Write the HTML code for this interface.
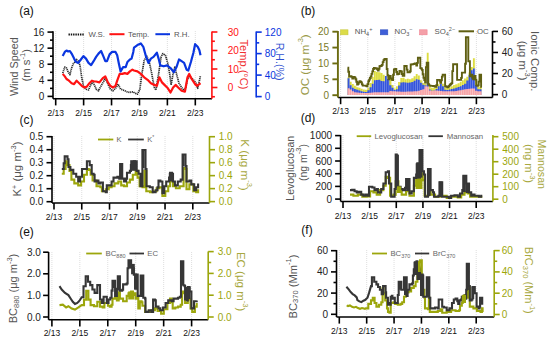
<!DOCTYPE html>
<html><head><meta charset="utf-8"><style>
html,body{margin:0;padding:0;background:#fff;width:550px;height:337px;overflow:hidden}
svg{display:block;font-family:"Liberation Sans", sans-serif}
</style></head><body>
<svg width="550" height="337" viewBox="0 0 550 337">
<defs>
<pattern id="pb" patternUnits="userSpaceOnUse" x="347.5" y="0" width="2.2" height="10"><rect width="2.2" height="10" fill="#3454dc"/><rect x="1.7" width="0.5" height="10" fill="#8a9ce8"/></pattern>
<pattern id="py" patternUnits="userSpaceOnUse" x="347.5" y="0" width="2.2" height="10"><rect width="2.2" height="10" fill="#dcdc40"/><rect x="1.7" width="0.5" height="10" fill="#ecec90"/></pattern>
<pattern id="pp" patternUnits="userSpaceOnUse" x="347.5" y="0" width="2.2" height="10"><rect width="2.2" height="10" fill="#f6a4a8"/><rect x="1.7" width="0.5" height="10" fill="#fbd0d2"/></pattern>
</defs>
<rect width="550" height="337" fill="#fff"/>
<text x="26.50" y="10.50" font-size="12" fill="#111" text-anchor="middle" dominant-baseline="central" font-weight="normal">(a)</text>
<line x1="53.00" y1="98.80" x2="212.00" y2="98.80" stroke="#000" stroke-width="1.5"/>
<line x1="55.70" y1="98.80" x2="55.70" y2="105.40" stroke="#000" stroke-width="1.6"/>
<text x="55.70" y="112.50" font-size="8.5" fill="#111" text-anchor="middle" dominant-baseline="central" font-weight="normal">2/13</text>
<line x1="55.70" y1="31.00" x2="55.70" y2="98.00" stroke="#c8c8c8" stroke-width="0.6" stroke-dasharray="1,1"/>
<line x1="83.62" y1="98.80" x2="83.62" y2="105.40" stroke="#000" stroke-width="1.6"/>
<text x="83.62" y="112.50" font-size="8.5" fill="#111" text-anchor="middle" dominant-baseline="central" font-weight="normal">2/15</text>
<line x1="83.62" y1="31.00" x2="83.62" y2="98.00" stroke="#c8c8c8" stroke-width="0.6" stroke-dasharray="1,1"/>
<line x1="111.54" y1="98.80" x2="111.54" y2="105.40" stroke="#000" stroke-width="1.6"/>
<text x="111.54" y="112.50" font-size="8.5" fill="#111" text-anchor="middle" dominant-baseline="central" font-weight="normal">2/17</text>
<line x1="111.54" y1="31.00" x2="111.54" y2="98.00" stroke="#c8c8c8" stroke-width="0.6" stroke-dasharray="1,1"/>
<line x1="139.46" y1="98.80" x2="139.46" y2="105.40" stroke="#000" stroke-width="1.6"/>
<text x="139.46" y="112.50" font-size="8.5" fill="#111" text-anchor="middle" dominant-baseline="central" font-weight="normal">2/19</text>
<line x1="139.46" y1="31.00" x2="139.46" y2="98.00" stroke="#c8c8c8" stroke-width="0.6" stroke-dasharray="1,1"/>
<line x1="167.38" y1="98.80" x2="167.38" y2="105.40" stroke="#000" stroke-width="1.6"/>
<text x="167.38" y="112.50" font-size="8.5" fill="#111" text-anchor="middle" dominant-baseline="central" font-weight="normal">2/21</text>
<line x1="167.38" y1="31.00" x2="167.38" y2="98.00" stroke="#c8c8c8" stroke-width="0.6" stroke-dasharray="1,1"/>
<line x1="195.30" y1="98.80" x2="195.30" y2="105.40" stroke="#000" stroke-width="1.6"/>
<text x="195.30" y="112.50" font-size="8.5" fill="#111" text-anchor="middle" dominant-baseline="central" font-weight="normal">2/23</text>
<line x1="195.30" y1="31.00" x2="195.30" y2="98.00" stroke="#c8c8c8" stroke-width="0.6" stroke-dasharray="1,1"/>
<line x1="53.00" y1="31.30" x2="53.00" y2="98.80" stroke="#000" stroke-width="1.6"/>
<line x1="53.00" y1="96.40" x2="47.50" y2="96.40" stroke="#000" stroke-width="1.6"/>
<text x="44.40" y="96.40" font-size="10" fill="#222" text-anchor="end" dominant-baseline="central" font-weight="normal">0</text>
<line x1="53.00" y1="80.32" x2="47.50" y2="80.32" stroke="#000" stroke-width="1.6"/>
<text x="44.40" y="80.32" font-size="10" fill="#222" text-anchor="end" dominant-baseline="central" font-weight="normal">4</text>
<line x1="53.00" y1="64.24" x2="47.50" y2="64.24" stroke="#000" stroke-width="1.6"/>
<text x="44.40" y="64.24" font-size="10" fill="#222" text-anchor="end" dominant-baseline="central" font-weight="normal">8</text>
<line x1="53.00" y1="48.16" x2="47.50" y2="48.16" stroke="#000" stroke-width="1.6"/>
<text x="44.40" y="48.16" font-size="10" fill="#222" text-anchor="end" dominant-baseline="central" font-weight="normal">12</text>
<line x1="53.00" y1="32.08" x2="47.50" y2="32.08" stroke="#000" stroke-width="1.6"/>
<text x="44.40" y="32.08" font-size="10" fill="#222" text-anchor="end" dominant-baseline="central" font-weight="normal">16</text>
<line x1="53.00" y1="88.36" x2="50.00" y2="88.36" stroke="#000" stroke-width="1.6"/>
<line x1="53.00" y1="72.28" x2="50.00" y2="72.28" stroke="#000" stroke-width="1.6"/>
<line x1="53.00" y1="56.20" x2="50.00" y2="56.20" stroke="#000" stroke-width="1.6"/>
<line x1="53.00" y1="40.12" x2="50.00" y2="40.12" stroke="#000" stroke-width="1.6"/>
<text x="13.60" y="66.70" font-size="10.8" fill="#555" text-anchor="middle" dominant-baseline="central" font-weight="normal" transform="rotate(-90 13.6 66.7)">Wind Speed</text>
<text x="26.50" y="65.30" font-size="11.3" fill="#555" text-anchor="middle" dominant-baseline="central" font-weight="normal" transform="rotate(-90 26.5 65.3)">(m s<tspan dy="-4.5" font-size="7.5">-1</tspan><tspan dy="4.5">)</tspan></text>
<line x1="211.90" y1="31.50" x2="211.90" y2="98.80" stroke="#ff1212" stroke-width="1.6"/>
<line x1="211.90" y1="87.50" x2="217.40" y2="87.50" stroke="#ff1212" stroke-width="1.6"/>
<text x="227.70" y="87.50" font-size="10" fill="#ff1212" text-anchor="start" dominant-baseline="central" font-weight="normal">0</text>
<line x1="211.90" y1="69.00" x2="217.40" y2="69.00" stroke="#ff1212" stroke-width="1.6"/>
<text x="227.70" y="69.00" font-size="10" fill="#ff1212" text-anchor="start" dominant-baseline="central" font-weight="normal">10</text>
<line x1="211.90" y1="50.50" x2="217.40" y2="50.50" stroke="#ff1212" stroke-width="1.6"/>
<text x="227.70" y="50.50" font-size="10" fill="#ff1212" text-anchor="start" dominant-baseline="central" font-weight="normal">20</text>
<line x1="211.90" y1="32.00" x2="217.40" y2="32.00" stroke="#ff1212" stroke-width="1.6"/>
<text x="227.70" y="32.00" font-size="10" fill="#ff1212" text-anchor="start" dominant-baseline="central" font-weight="normal">30</text>
<line x1="211.90" y1="96.75" x2="214.90" y2="96.75" stroke="#ff1212" stroke-width="1.6"/>
<line x1="211.90" y1="78.25" x2="214.90" y2="78.25" stroke="#ff1212" stroke-width="1.6"/>
<line x1="211.90" y1="59.75" x2="214.90" y2="59.75" stroke="#ff1212" stroke-width="1.6"/>
<line x1="211.90" y1="41.25" x2="214.90" y2="41.25" stroke="#ff1212" stroke-width="1.6"/>
<text x="243.60" y="64.50" font-size="11.1" fill="#f03030" text-anchor="middle" dominant-baseline="central" font-weight="normal" transform="rotate(90 243.6 64.5)">Temp.(°C)</text>
<line x1="256.20" y1="31.50" x2="256.20" y2="97.40" stroke="#0a36e0" stroke-width="1.6"/>
<line x1="256.20" y1="96.60" x2="261.70" y2="96.60" stroke="#0a36e0" stroke-width="1.6"/>
<text x="264.80" y="96.60" font-size="10" fill="#0a36e0" text-anchor="start" dominant-baseline="central" font-weight="normal">0</text>
<line x1="256.20" y1="75.10" x2="261.70" y2="75.10" stroke="#0a36e0" stroke-width="1.6"/>
<text x="264.80" y="75.10" font-size="10" fill="#0a36e0" text-anchor="start" dominant-baseline="central" font-weight="normal">40</text>
<line x1="256.20" y1="53.60" x2="261.70" y2="53.60" stroke="#0a36e0" stroke-width="1.6"/>
<text x="264.80" y="53.60" font-size="10" fill="#0a36e0" text-anchor="start" dominant-baseline="central" font-weight="normal">80</text>
<line x1="256.20" y1="32.10" x2="261.70" y2="32.10" stroke="#0a36e0" stroke-width="1.6"/>
<text x="264.80" y="32.10" font-size="10" fill="#0a36e0" text-anchor="start" dominant-baseline="central" font-weight="normal">120</text>
<line x1="256.20" y1="85.85" x2="259.20" y2="85.85" stroke="#0a36e0" stroke-width="1.6"/>
<line x1="256.20" y1="64.35" x2="259.20" y2="64.35" stroke="#0a36e0" stroke-width="1.6"/>
<line x1="256.20" y1="42.85" x2="259.20" y2="42.85" stroke="#0a36e0" stroke-width="1.6"/>
<text x="279.80" y="61.60" font-size="10.6" fill="#3050d0" text-anchor="middle" dominant-baseline="central" font-weight="normal" transform="rotate(90 279.8 61.6)">R.H.(%)</text>
<polyline points="62.70,73.10 64.80,67.10 66.50,68.00 68.20,72.20 69.90,74.70 71.60,68.00 73.30,63.70 74.90,62.00 76.60,59.50 78.30,61.20 80.00,65.40 81.70,77.30 83.40,85.80 86.00,89.20 88.50,90.00 91.10,84.10 92.70,82.40 94.40,84.90 96.10,89.20 98.50,90.80 101.10,85.80 103.60,81.50 105.30,78.10 107.90,84.10 110.40,89.20 112.90,90.80 116.30,87.50 118.00,84.10 120.60,89.20 123.10,90.00 126.50,91.70 129.90,92.50 133.30,91.70 134.00,92.50 137.40,94.20 139.90,89.20 141.60,75.60 144.20,60.30 146.70,56.10 149.30,62.00 151.80,73.90 154.30,87.50 156.00,90.00 158.60,73.90 161.10,56.90 162.80,53.60 165.40,55.30 167.90,63.70 169.70,73.90 171.10,84.90 173.10,73.90 174.80,67.10 176.50,73.90 179.00,83.20 181.60,87.50 184.10,90.80 185.80,87.50 187.50,79.00 190.00,76.40 193.40,79.80 196.00,83.20 197.70,88.30 199.40,80.70 200.50,75.60" fill="none" stroke="#2c2c2c" stroke-width="1.7" stroke-linejoin="round" stroke-dasharray="1.2,0.7"/>
<polyline points="62.70,73.90 64.80,76.40 66.50,79.00 69.00,80.70 71.60,83.20 74.10,84.10 76.60,80.70 79.20,83.20 81.70,85.80 84.30,87.50 86.80,86.60 89.40,83.20 91.90,80.70 94.40,81.50 96.00,81.50 99.40,82.40 102.80,78.10 105.30,76.40 107.90,82.40 110.40,85.80 112.90,87.50 115.50,85.80 117.20,80.70 119.70,73.90 122.30,73.90 124.80,73.10 127.40,73.90 129.90,71.40 132.40,69.70 134.00,70.50 137.40,71.40 140.80,73.90 144.20,77.30 147.60,79.80 150.90,83.20 154.30,84.90 156.90,85.80 159.40,77.30 162.00,82.40 164.50,84.90 167.90,88.30 170.50,92.50 173.10,87.50 175.60,84.90 178.20,87.50 181.60,90.80 184.90,91.70 187.50,77.30 189.20,73.90 191.70,79.00 195.10,84.10 196.80,85.80 199.40,84.10 200.50,83.20" fill="none" stroke="#ff1212" stroke-width="2.2" stroke-linejoin="round"/>
<polyline points="62.70,56.10 64.80,51.90 66.50,50.50 68.20,51.50 69.90,51.00 71.60,53.60 74.10,58.60 75.80,61.70 78.30,62.90 80.90,59.50 83.40,56.10 86.00,58.60 88.50,62.90 91.10,65.10 93.60,61.20 96.10,56.90 98.50,53.60 101.10,51.00 103.60,56.90 105.30,61.20 107.00,61.20 109.60,54.40 112.10,51.90 115.50,51.90 117.20,55.30 118.90,63.70 120.60,71.40 123.10,67.10 125.70,67.10 127.40,62.00 129.90,59.50 131.60,58.60 133.30,51.90 134.00,47.60 137.40,45.10 140.80,43.40 143.30,46.80 145.90,56.10 148.40,62.90 150.90,58.60 153.50,56.90 156.90,52.70 158.60,58.60 160.30,65.40 163.70,66.30 167.10,65.40 170.50,68.00 173.90,72.20 176.50,67.10 179.00,59.50 181.60,61.20 184.10,62.90 186.60,69.70 188.30,70.50 190.90,62.00 193.40,52.70 195.10,44.20 197.70,46.80 199.40,50.20 200.50,55.30" fill="none" stroke="#0a36e0" stroke-width="2.2" stroke-linejoin="round"/>
<line x1="68.50" y1="34.40" x2="83.80" y2="34.40" stroke="#111" stroke-width="2" stroke-dasharray="1.4,0.9"/>
<text x="88.50" y="34.60" font-size="7.8" fill="#555" text-anchor="start" dominant-baseline="central" font-weight="normal">W.S.</text>
<line x1="109.40" y1="34.20" x2="124.50" y2="34.20" stroke="#ff1212" stroke-width="2"/>
<text x="128.00" y="34.60" font-size="7.8" fill="#555" text-anchor="start" dominant-baseline="central" font-weight="normal">Temp.</text>
<line x1="155.40" y1="34.20" x2="170.00" y2="34.20" stroke="#0a36e0" stroke-width="2"/>
<text x="174.00" y="34.60" font-size="7.8" fill="#555" text-anchor="start" dominant-baseline="central" font-weight="normal">R.H.</text>
<text x="308.00" y="10.50" font-size="12" fill="#111" text-anchor="middle" dominant-baseline="central" font-weight="normal">(b)</text>
<line x1="337.90" y1="97.60" x2="492.50" y2="97.60" stroke="#000" stroke-width="1.5"/>
<line x1="340.60" y1="97.60" x2="340.60" y2="104.20" stroke="#000" stroke-width="1.6"/>
<text x="340.60" y="110.80" font-size="8.5" fill="#111" text-anchor="middle" dominant-baseline="central" font-weight="normal">2/13</text>
<line x1="340.60" y1="31.00" x2="340.60" y2="96.80" stroke="#c8c8c8" stroke-width="0.6" stroke-dasharray="1,1"/>
<line x1="367.76" y1="97.60" x2="367.76" y2="104.20" stroke="#000" stroke-width="1.6"/>
<text x="367.76" y="110.80" font-size="8.5" fill="#111" text-anchor="middle" dominant-baseline="central" font-weight="normal">2/15</text>
<line x1="367.76" y1="31.00" x2="367.76" y2="96.80" stroke="#c8c8c8" stroke-width="0.6" stroke-dasharray="1,1"/>
<line x1="394.92" y1="97.60" x2="394.92" y2="104.20" stroke="#000" stroke-width="1.6"/>
<text x="394.92" y="110.80" font-size="8.5" fill="#111" text-anchor="middle" dominant-baseline="central" font-weight="normal">2/17</text>
<line x1="394.92" y1="31.00" x2="394.92" y2="96.80" stroke="#c8c8c8" stroke-width="0.6" stroke-dasharray="1,1"/>
<line x1="422.08" y1="97.60" x2="422.08" y2="104.20" stroke="#000" stroke-width="1.6"/>
<text x="422.08" y="110.80" font-size="8.5" fill="#111" text-anchor="middle" dominant-baseline="central" font-weight="normal">2/19</text>
<line x1="422.08" y1="31.00" x2="422.08" y2="96.80" stroke="#c8c8c8" stroke-width="0.6" stroke-dasharray="1,1"/>
<line x1="449.24" y1="97.60" x2="449.24" y2="104.20" stroke="#000" stroke-width="1.6"/>
<text x="449.24" y="110.80" font-size="8.5" fill="#111" text-anchor="middle" dominant-baseline="central" font-weight="normal">2/21</text>
<line x1="449.24" y1="31.00" x2="449.24" y2="96.80" stroke="#c8c8c8" stroke-width="0.6" stroke-dasharray="1,1"/>
<line x1="476.40" y1="97.60" x2="476.40" y2="104.20" stroke="#000" stroke-width="1.6"/>
<text x="476.40" y="110.80" font-size="8.5" fill="#111" text-anchor="middle" dominant-baseline="central" font-weight="normal">2/23</text>
<line x1="476.40" y1="31.00" x2="476.40" y2="96.80" stroke="#c8c8c8" stroke-width="0.6" stroke-dasharray="1,1"/>
<line x1="337.90" y1="31.00" x2="337.90" y2="97.60" stroke="#6b6b10" stroke-width="1.9"/>
<line x1="337.90" y1="95.20" x2="332.40" y2="95.20" stroke="#6b6b10" stroke-width="1.9"/>
<text x="329.00" y="95.20" font-size="10" fill="#7a7a28" text-anchor="end" dominant-baseline="central" font-weight="normal">0</text>
<line x1="337.90" y1="79.33" x2="332.40" y2="79.33" stroke="#6b6b10" stroke-width="1.9"/>
<text x="329.00" y="79.33" font-size="10" fill="#7a7a28" text-anchor="end" dominant-baseline="central" font-weight="normal">5</text>
<line x1="337.90" y1="63.45" x2="332.40" y2="63.45" stroke="#6b6b10" stroke-width="1.9"/>
<text x="329.00" y="63.45" font-size="10" fill="#7a7a28" text-anchor="end" dominant-baseline="central" font-weight="normal">10</text>
<line x1="337.90" y1="47.58" x2="332.40" y2="47.58" stroke="#6b6b10" stroke-width="1.9"/>
<text x="329.00" y="47.58" font-size="10" fill="#7a7a28" text-anchor="end" dominant-baseline="central" font-weight="normal">15</text>
<line x1="337.90" y1="31.70" x2="332.40" y2="31.70" stroke="#6b6b10" stroke-width="1.9"/>
<text x="329.00" y="31.70" font-size="10" fill="#7a7a28" text-anchor="end" dominant-baseline="central" font-weight="normal">20</text>
<line x1="492.50" y1="31.00" x2="492.50" y2="97.60" stroke="#000" stroke-width="1.6"/>
<line x1="492.50" y1="94.60" x2="498.00" y2="94.60" stroke="#000" stroke-width="1.6"/>
<text x="501.80" y="94.60" font-size="10" fill="#222" text-anchor="start" dominant-baseline="central" font-weight="normal">0</text>
<line x1="492.50" y1="73.54" x2="498.00" y2="73.54" stroke="#000" stroke-width="1.6"/>
<text x="501.80" y="73.54" font-size="10" fill="#222" text-anchor="start" dominant-baseline="central" font-weight="normal">20</text>
<line x1="492.50" y1="52.48" x2="498.00" y2="52.48" stroke="#000" stroke-width="1.6"/>
<text x="501.80" y="52.48" font-size="10" fill="#222" text-anchor="start" dominant-baseline="central" font-weight="normal">40</text>
<line x1="492.50" y1="31.42" x2="498.00" y2="31.42" stroke="#000" stroke-width="1.6"/>
<text x="501.80" y="31.42" font-size="10" fill="#222" text-anchor="start" dominant-baseline="central" font-weight="normal">60</text>
<line x1="492.50" y1="84.07" x2="495.50" y2="84.07" stroke="#000" stroke-width="1.6"/>
<line x1="492.50" y1="63.01" x2="495.50" y2="63.01" stroke="#000" stroke-width="1.6"/>
<line x1="492.50" y1="41.95" x2="495.50" y2="41.95" stroke="#000" stroke-width="1.6"/>
<text x="304.50" y="64.80" font-size="11.6" fill="#9a9a48" text-anchor="middle" dominant-baseline="central" font-weight="normal" transform="rotate(-90 304.5 64.8)">OC (μg m<tspan dy="-4.5" font-size="7.5">-3</tspan><tspan dy="4.5">)</tspan></text>
<text x="534.70" y="61.20" font-size="11.3" fill="#555" text-anchor="middle" dominant-baseline="central" font-weight="normal" transform="rotate(90 534.7 61.2)">Ionic Comp.</text>
<text x="523.00" y="60.60" font-size="11.4" fill="#555" text-anchor="middle" dominant-baseline="central" font-weight="normal" transform="rotate(90 523 60.6)">(μg m<tspan dy="-4.5" font-size="7.5">-3</tspan><tspan dy="4.5">)</tspan></text>
<path d="M347.50,94.90 L347.50,77.30 L349.70,77.30 L349.70,81.70 L351.90,81.70 L351.90,84.00 L354.10,84.00 L354.10,85.85 L356.30,85.85 L356.30,87.22 L358.50,87.22 L358.50,87.75 L360.70,87.75 L360.70,88.80 L362.90,88.80 L362.90,89.62 L365.10,89.62 L365.10,89.83 L367.30,89.83 L367.30,87.78 L369.50,87.78 L369.50,83.03 L371.70,83.03 L371.70,76.91 L373.90,76.91 L373.90,70.96 L376.10,70.96 L376.10,72.09 L378.30,72.09 L378.30,72.30 L380.50,72.30 L380.50,73.03 L382.70,73.03 L382.70,74.64 L384.90,74.64 L384.90,76.34 L387.10,76.34 L387.10,79.52 L389.30,79.52 L389.30,78.97 L391.50,78.97 L391.50,85.00 L393.70,85.00 L393.70,88.57 L395.90,88.57 L395.90,86.30 L398.10,86.30 L398.10,81.90 L400.30,81.90 L400.30,78.03 L402.50,78.03 L402.50,77.80 L404.70,77.80 L404.70,79.17 L406.90,79.17 L406.90,78.63 L409.10,78.63 L409.10,79.13 L411.30,79.13 L411.30,78.30 L413.50,78.30 L413.50,76.30 L415.70,76.30 L415.70,74.10 L417.90,74.10 L417.90,75.40 L420.10,75.40 L420.10,80.30 L422.30,80.30 L422.30,82.97 L424.50,82.97 L424.50,83.50 L426.70,83.50 L426.70,52.80 L428.90,52.80 L428.90,86.34 L431.10,86.34 L431.10,87.70 L433.30,87.70 L433.30,87.85 L435.50,87.85 L435.50,86.95 L437.70,86.95 L437.70,84.23 L439.90,84.23 L439.90,82.27 L442.10,82.27 L442.10,83.76 L444.30,83.76 L444.30,87.42 L446.50,87.42 L446.50,87.77 L448.70,87.77 L448.70,87.25 L450.90,87.25 L450.90,86.18 L453.10,86.18 L453.10,85.06 L455.30,85.06 L455.30,84.15 L457.50,84.15 L457.50,83.25 L459.70,83.25 L459.70,81.79 L461.90,81.79 L461.90,80.13 L464.10,80.13 L464.10,78.50 L466.30,78.50 L466.30,76.87 L468.50,76.87 L468.50,72.53 L470.70,72.53 L470.70,66.96 L472.90,66.96 L472.90,58.28 L475.10,58.28 L475.10,79.75 L477.30,79.75 L477.30,86.38 L479.50,86.38 L479.50,87.07 L481.70,87.07 L481.70,94.90 Z" fill="url(#py)"/>
<path d="M347.50,94.90 L347.50,78.35 L349.70,78.35 L349.70,85.28 L351.90,85.28 L351.90,87.70 L354.10,87.70 L354.10,89.03 L356.30,89.03 L356.30,89.77 L358.50,89.77 L358.50,90.48 L360.70,90.48 L360.70,91.18 L362.90,91.18 L362.90,91.82 L365.10,91.82 L365.10,92.00 L367.30,92.00 L367.30,90.33 L369.50,90.33 L369.50,87.25 L371.70,87.25 L371.70,83.69 L373.90,83.69 L373.90,80.35 L376.10,80.35 L376.10,80.00 L378.30,80.00 L378.30,79.85 L380.50,79.85 L380.50,80.92 L382.70,80.92 L382.70,81.36 L384.90,81.36 L384.90,76.09 L387.10,76.09 L387.10,79.11 L389.30,79.11 L389.30,85.30 L391.50,85.30 L391.50,87.64 L393.70,87.64 L393.70,89.90 L395.90,89.90 L395.90,89.27 L398.10,89.27 L398.10,85.40 L400.30,85.40 L400.30,82.61 L402.50,82.61 L402.50,82.16 L404.70,82.16 L404.70,82.42 L406.90,82.42 L406.90,82.78 L409.10,82.78 L409.10,82.45 L411.30,82.45 L411.30,82.04 L413.50,82.04 L413.50,80.72 L415.70,80.72 L415.70,79.33 L417.90,79.33 L417.90,79.70 L420.10,79.70 L420.10,82.70 L422.30,82.70 L422.30,84.85 L424.50,84.85 L424.50,85.60 L426.70,85.60 L426.70,63.90 L428.90,63.90 L428.90,89.44 L431.10,89.44 L431.10,90.80 L433.30,90.80 L433.30,90.48 L435.50,90.48 L435.50,89.04 L437.70,89.04 L437.70,86.15 L439.90,86.15 L439.90,83.63 L442.10,83.63 L442.10,86.20 L444.30,86.20 L444.30,89.71 L446.50,89.71 L446.50,89.89 L448.70,89.89 L448.70,89.39 L450.90,89.39 L450.90,88.88 L453.10,88.88 L453.10,88.38 L455.30,88.38 L455.30,87.73 L457.50,87.73 L457.50,86.98 L459.70,86.98 L459.70,86.24 L461.90,86.24 L461.90,85.03 L464.10,85.03 L464.10,83.72 L466.30,83.72 L466.30,80.41 L468.50,80.41 L468.50,74.70 L470.70,74.70 L470.70,70.30 L472.90,70.30 L472.90,68.50 L475.10,68.50 L475.10,85.09 L477.30,85.09 L477.30,89.30 L479.50,89.30 L479.50,89.30 L481.70,89.30 L481.70,94.90 Z" fill="url(#pb)"/>
<path d="M347.50,94.90 L347.50,88.17 L349.70,88.17 L349.70,89.57 L351.90,89.57 L351.90,91.33 L354.10,91.33 L354.10,92.22 L356.30,92.22 L356.30,92.49 L358.50,92.49 L358.50,92.70 L360.70,92.70 L360.70,92.91 L362.90,92.91 L362.90,93.00 L365.10,93.00 L365.10,93.00 L367.30,93.00 L367.30,93.00 L369.50,93.00 L369.50,92.78 L371.70,92.78 L371.70,92.52 L373.90,92.52 L373.90,92.30 L376.10,92.30 L376.10,92.30 L378.30,92.30 L378.30,92.30 L380.50,92.30 L380.50,92.30 L382.70,92.30 L382.70,92.30 L384.90,92.30 L384.90,92.30 L387.10,92.30 L387.10,92.30 L389.30,92.30 L389.30,91.12 L391.50,91.12 L391.50,91.23 L393.70,91.23 L393.70,91.34 L395.90,91.34 L395.90,91.45 L398.10,91.45 L398.10,91.56 L400.30,91.56 L400.30,91.67 L402.50,91.67 L402.50,91.78 L404.70,91.78 L404.70,91.70 L406.90,91.70 L406.90,91.59 L409.10,91.59 L409.10,91.48 L411.30,91.48 L411.30,91.38 L413.50,91.38 L413.50,91.26 L415.70,91.26 L415.70,91.16 L417.90,91.16 L417.90,90.71 L420.10,90.71 L420.10,89.92 L422.30,89.92 L422.30,89.14 L424.50,89.14 L424.50,86.30 L426.70,86.30 L426.70,86.44 L428.90,86.44 L428.90,90.59 L431.10,90.59 L431.10,91.11 L433.30,91.11 L433.30,90.41 L435.50,90.41 L435.50,90.62 L437.70,90.62 L437.70,90.83 L439.90,90.83 L439.90,91.04 L442.10,91.04 L442.10,91.25 L444.30,91.25 L444.30,91.30 L446.50,91.30 L446.50,91.30 L448.70,91.30 L448.70,91.30 L450.90,91.30 L450.90,91.30 L453.10,91.30 L453.10,91.30 L455.30,91.30 L455.30,91.03 L457.50,91.03 L457.50,90.61 L459.70,90.61 L459.70,90.18 L461.90,90.18 L461.90,89.76 L464.10,89.76 L464.10,89.34 L466.30,89.34 L466.30,89.03 L468.50,89.03 L468.50,88.74 L470.70,88.74 L470.70,88.45 L472.90,88.45 L472.90,88.50 L475.10,88.50 L475.10,90.70 L477.30,90.70 L477.30,91.30 L479.50,91.30 L479.50,91.30 L481.70,91.30 L481.70,94.90 Z" fill="url(#pp)"/>
<path d="M347.50,67.80 L348.30,67.80 L348.30,71.76 L349.10,71.76 L349.10,76.62 L349.90,76.62 L349.90,76.39 L350.70,76.39 L350.70,76.17 L351.50,76.17 L351.50,76.83 L352.30,76.83 L352.30,78.60 L353.10,78.60 L353.10,77.80 L353.90,77.80 L353.90,77.00 L354.70,77.00 L354.70,77.70 L355.50,77.70 L355.50,79.30 L356.30,79.30 L356.30,81.78 L357.10,81.78 L357.10,84.55 L357.90,84.55 L357.90,83.72 L358.70,83.72 L358.70,82.38 L359.50,82.38 L359.50,81.25 L360.30,81.25 L360.30,81.62 L361.10,81.62 L361.10,82.39 L361.90,82.39 L361.90,84.37 L362.70,84.37 L362.70,85.60 L363.50,85.60 L363.50,85.60 L364.30,85.60 L364.30,85.60 L365.10,85.60 L365.10,85.60 L365.90,85.60 L365.90,85.87 L366.70,85.87 L366.70,86.29 L367.50,86.29 L367.50,84.17 L368.30,84.17 L368.30,81.20 L369.10,81.20 L369.10,79.63 L369.90,79.63 L369.90,78.07 L370.70,78.07 L370.70,76.39 L371.50,76.39 L371.50,73.87 L372.30,73.87 L372.30,71.40 L373.10,71.40 L373.10,69.00 L373.90,69.00 L373.90,67.89 L374.70,67.89 L374.70,68.08 L375.50,68.08 L375.50,68.27 L376.30,68.27 L376.30,68.45 L377.10,68.45 L377.10,69.42 L377.90,69.42 L377.90,70.65 L378.70,70.65 L378.70,68.70 L379.50,68.70 L379.50,66.30 L380.30,66.30 L380.30,66.05 L381.10,66.05 L381.10,65.79 L381.90,65.79 L381.90,64.91 L382.70,64.91 L382.70,62.13 L383.50,62.13 L383.50,60.10 L384.30,60.10 L384.30,59.30 L385.10,59.30 L385.10,58.90 L385.90,58.90 L385.90,58.90 L386.70,58.90 L386.70,68.95 L387.50,68.95 L387.50,75.26 L388.30,75.26 L388.30,79.21 L389.10,79.21 L389.10,77.02 L389.90,77.02 L389.90,76.00 L390.70,76.00 L390.70,78.40 L391.50,78.40 L391.50,79.55 L392.30,79.55 L392.30,79.95 L393.10,79.95 L393.10,74.75 L393.90,74.75 L393.90,69.47 L394.70,69.47 L394.70,69.20 L395.50,69.20 L395.50,68.93 L396.30,68.93 L396.30,72.00 L397.10,72.00 L397.10,74.23 L397.90,74.23 L397.90,73.97 L398.70,73.97 L398.70,73.70 L399.50,73.70 L399.50,70.93 L400.30,70.93 L400.30,71.20 L401.10,71.20 L401.10,71.47 L401.90,71.47 L401.90,74.00 L402.70,74.00 L402.70,75.80 L403.50,75.80 L403.50,75.80 L404.30,75.80 L404.30,66.00 L405.10,66.00 L405.10,66.00 L405.90,66.00 L405.90,66.00 L406.70,66.00 L406.70,69.60 L407.50,69.60 L407.50,72.30 L408.30,72.30 L408.30,72.30 L409.10,72.30 L409.10,72.30 L409.90,72.30 L409.90,71.20 L410.70,71.20 L410.70,64.56 L411.50,64.56 L411.50,64.40 L412.30,64.40 L412.30,64.24 L413.10,64.24 L413.10,64.08 L413.90,64.08 L413.90,63.92 L414.70,63.92 L414.70,63.55 L415.50,63.55 L415.50,63.45 L416.30,63.45 L416.30,65.45 L417.10,65.45 L417.10,62.84 L417.90,62.84 L417.90,57.70 L418.70,57.70 L418.70,57.70 L419.50,57.70 L419.50,57.70 L420.30,57.70 L420.30,68.10 L421.10,68.10 L421.10,68.50 L421.90,68.50 L421.90,69.90 L422.70,69.90 L422.70,74.30 L423.50,74.30 L423.50,77.70 L424.30,77.70 L424.30,80.10 L425.10,80.10 L425.10,82.50 L425.90,82.50 L425.90,67.09 L426.70,67.09 L426.70,62.60 L427.50,62.60 L427.50,62.60 L428.30,62.60 L428.30,84.30 L429.10,84.30 L429.10,85.34 L429.90,85.34 L429.90,85.62 L430.70,85.62 L430.70,85.90 L431.50,85.90 L431.50,85.90 L432.30,85.90 L432.30,85.90 L433.10,85.90 L433.10,85.97 L433.90,85.97 L433.90,86.09 L434.70,86.09 L434.70,86.49 L435.50,86.49 L435.50,86.92 L436.30,86.92 L436.30,85.21 L437.10,85.21 L437.10,79.90 L437.90,79.90 L437.90,79.90 L438.70,79.90 L438.70,79.90 L439.50,79.90 L439.50,80.83 L440.30,80.83 L440.30,82.69 L441.10,82.69 L441.10,80.21 L441.90,80.21 L441.90,76.59 L442.70,76.59 L442.70,74.70 L443.50,74.70 L443.50,74.70 L444.30,74.70 L444.30,74.70 L445.10,74.70 L445.10,86.22 L445.90,86.22 L445.90,86.55 L446.70,86.55 L446.70,86.87 L447.50,86.87 L447.50,87.20 L448.30,87.20 L448.30,86.40 L449.10,86.40 L449.10,85.60 L449.90,85.60 L449.90,84.79 L450.70,84.79 L450.70,83.94 L451.50,83.94 L451.50,83.11 L452.30,83.11 L452.30,71.10 L453.10,71.10 L453.10,64.30 L453.90,64.30 L453.90,64.30 L454.70,64.30 L454.70,64.30 L455.50,64.30 L455.50,64.30 L456.30,64.30 L456.30,64.30 L457.10,64.30 L457.10,79.90 L457.90,79.90 L457.90,79.90 L458.70,79.90 L458.70,79.90 L459.50,79.90 L459.50,79.90 L460.30,79.90 L460.30,79.90 L461.10,79.90 L461.10,77.91 L461.90,77.91 L461.90,72.60 L462.70,72.60 L462.70,72.60 L463.50,72.60 L463.50,72.60 L464.30,72.60 L464.30,72.60 L465.10,72.60 L465.10,63.77 L465.90,63.77 L465.90,37.30 L466.70,37.30 L466.70,37.30 L467.50,37.30 L467.50,37.30 L468.30,37.30 L468.30,61.20 L469.10,61.20 L469.10,61.20 L469.90,61.20 L469.90,76.22 L470.70,76.22 L470.70,74.67 L471.50,74.67 L471.50,74.79 L472.30,74.79 L472.30,77.71 L473.10,77.71 L473.10,79.21 L473.90,79.21 L473.90,76.43 L474.70,76.43 L474.70,75.96 L475.50,75.96 L475.50,79.62 L476.30,79.62 L476.30,85.38 L477.10,85.38 L477.10,85.77 L477.90,85.77 L477.90,85.39 L478.70,85.39 L478.70,81.63 L479.50,81.63 L479.50,74.70 L480.30,74.70 L480.30,74.70 L481.10,74.70 L481.10,86.87 L481.90,86.87" fill="none" stroke="#5f5f12" stroke-width="1.9" stroke-linejoin="miter"/>
<rect x="427.40" y="62.70" width="1.50" height="21.30" fill="#5f5f12"/>
<rect x="340.5" y="29.8" width="7.5" height="5" fill="#dcdc48" stroke="#c8c840" stroke-width="0.6"/>
<text x="354.80" y="31.60" font-size="7.8" fill="#555" text-anchor="start" dominant-baseline="central" font-weight="normal">NH<tspan dy="2" font-size="5.5">4</tspan><tspan dy="-5" font-size="5.5">+</tspan></text>
<rect x="380.3" y="29.8" width="7.5" height="5" fill="#3f5fd8" stroke="#3050c0" stroke-width="0.6"/>
<text x="394.60" y="31.60" font-size="7.8" fill="#555" text-anchor="start" dominant-baseline="central" font-weight="normal">NO<tspan dy="2" font-size="5.5">3</tspan><tspan dy="-5" font-size="5.5">−</tspan></text>
<rect x="419.6" y="29.8" width="7.5" height="5" fill="#f4a0a8" stroke="#f08090" stroke-width="0.6"/>
<text x="434.50" y="31.60" font-size="7.8" fill="#555" text-anchor="start" dominant-baseline="central" font-weight="normal">SO<tspan dy="2" font-size="5.5">4</tspan><tspan dy="-5" font-size="5.5">2−</tspan></text>
<line x1="458.60" y1="31.30" x2="474.00" y2="31.30" stroke="#5f5f12" stroke-width="2"/>
<text x="477.00" y="31.60" font-size="7.8" fill="#555" text-anchor="start" dominant-baseline="central" font-weight="normal">OC</text>
<text x="26.50" y="120.00" font-size="12" fill="#111" text-anchor="middle" dominant-baseline="central" font-weight="normal">(c)</text>
<line x1="52.00" y1="203.00" x2="209.50" y2="203.00" stroke="#000" stroke-width="1.5"/>
<line x1="54.00" y1="203.00" x2="54.00" y2="209.60" stroke="#000" stroke-width="1.6"/>
<text x="54.00" y="217.20" font-size="8.5" fill="#111" text-anchor="middle" dominant-baseline="central" font-weight="normal">2/13</text>
<line x1="54.00" y1="136.00" x2="54.00" y2="202.20" stroke="#c8c8c8" stroke-width="0.6" stroke-dasharray="1,1"/>
<line x1="81.76" y1="203.00" x2="81.76" y2="209.60" stroke="#000" stroke-width="1.6"/>
<text x="81.76" y="217.20" font-size="8.5" fill="#111" text-anchor="middle" dominant-baseline="central" font-weight="normal">2/15</text>
<line x1="81.76" y1="136.00" x2="81.76" y2="202.20" stroke="#c8c8c8" stroke-width="0.6" stroke-dasharray="1,1"/>
<line x1="109.52" y1="203.00" x2="109.52" y2="209.60" stroke="#000" stroke-width="1.6"/>
<text x="109.52" y="217.20" font-size="8.5" fill="#111" text-anchor="middle" dominant-baseline="central" font-weight="normal">2/17</text>
<line x1="109.52" y1="136.00" x2="109.52" y2="202.20" stroke="#c8c8c8" stroke-width="0.6" stroke-dasharray="1,1"/>
<line x1="137.28" y1="203.00" x2="137.28" y2="209.60" stroke="#000" stroke-width="1.6"/>
<text x="137.28" y="217.20" font-size="8.5" fill="#111" text-anchor="middle" dominant-baseline="central" font-weight="normal">2/19</text>
<line x1="137.28" y1="136.00" x2="137.28" y2="202.20" stroke="#c8c8c8" stroke-width="0.6" stroke-dasharray="1,1"/>
<line x1="165.04" y1="203.00" x2="165.04" y2="209.60" stroke="#000" stroke-width="1.6"/>
<text x="165.04" y="217.20" font-size="8.5" fill="#111" text-anchor="middle" dominant-baseline="central" font-weight="normal">2/21</text>
<line x1="165.04" y1="136.00" x2="165.04" y2="202.20" stroke="#c8c8c8" stroke-width="0.6" stroke-dasharray="1,1"/>
<line x1="192.80" y1="203.00" x2="192.80" y2="209.60" stroke="#000" stroke-width="1.6"/>
<text x="192.80" y="217.20" font-size="8.5" fill="#111" text-anchor="middle" dominant-baseline="central" font-weight="normal">2/23</text>
<line x1="192.80" y1="136.00" x2="192.80" y2="202.20" stroke="#c8c8c8" stroke-width="0.6" stroke-dasharray="1,1"/>
<line x1="52.00" y1="136.00" x2="52.00" y2="203.00" stroke="#000" stroke-width="1.6"/>
<line x1="52.00" y1="201.70" x2="46.50" y2="201.70" stroke="#000" stroke-width="1.6"/>
<text x="43.40" y="201.70" font-size="10" fill="#222" text-anchor="end" dominant-baseline="central" font-weight="normal">0.0</text>
<line x1="52.00" y1="188.70" x2="46.50" y2="188.70" stroke="#000" stroke-width="1.6"/>
<text x="43.40" y="188.70" font-size="10" fill="#222" text-anchor="end" dominant-baseline="central" font-weight="normal">0.1</text>
<line x1="52.00" y1="175.70" x2="46.50" y2="175.70" stroke="#000" stroke-width="1.6"/>
<text x="43.40" y="175.70" font-size="10" fill="#222" text-anchor="end" dominant-baseline="central" font-weight="normal">0.2</text>
<line x1="52.00" y1="162.70" x2="46.50" y2="162.70" stroke="#000" stroke-width="1.6"/>
<text x="43.40" y="162.70" font-size="10" fill="#222" text-anchor="end" dominant-baseline="central" font-weight="normal">0.3</text>
<line x1="52.00" y1="149.70" x2="46.50" y2="149.70" stroke="#000" stroke-width="1.6"/>
<text x="43.40" y="149.70" font-size="10" fill="#222" text-anchor="end" dominant-baseline="central" font-weight="normal">0.4</text>
<line x1="52.00" y1="136.70" x2="46.50" y2="136.70" stroke="#000" stroke-width="1.6"/>
<text x="43.40" y="136.70" font-size="10" fill="#222" text-anchor="end" dominant-baseline="central" font-weight="normal">0.5</text>
<line x1="209.50" y1="136.00" x2="209.50" y2="203.00" stroke="#9ca60c" stroke-width="1.6"/>
<line x1="209.50" y1="201.60" x2="215.00" y2="201.60" stroke="#9ca60c" stroke-width="1.6"/>
<text x="218.70" y="201.60" font-size="10" fill="#9ca60c" text-anchor="start" dominant-baseline="central" font-weight="normal">0.0</text>
<line x1="209.50" y1="188.62" x2="215.00" y2="188.62" stroke="#9ca60c" stroke-width="1.6"/>
<text x="218.70" y="188.62" font-size="10" fill="#9ca60c" text-anchor="start" dominant-baseline="central" font-weight="normal">0.2</text>
<line x1="209.50" y1="175.64" x2="215.00" y2="175.64" stroke="#9ca60c" stroke-width="1.6"/>
<text x="218.70" y="175.64" font-size="10" fill="#9ca60c" text-anchor="start" dominant-baseline="central" font-weight="normal">0.4</text>
<line x1="209.50" y1="162.66" x2="215.00" y2="162.66" stroke="#9ca60c" stroke-width="1.6"/>
<text x="218.70" y="162.66" font-size="10" fill="#9ca60c" text-anchor="start" dominant-baseline="central" font-weight="normal">0.6</text>
<line x1="209.50" y1="149.68" x2="215.00" y2="149.68" stroke="#9ca60c" stroke-width="1.6"/>
<text x="218.70" y="149.68" font-size="10" fill="#9ca60c" text-anchor="start" dominant-baseline="central" font-weight="normal">0.8</text>
<line x1="209.50" y1="136.70" x2="215.00" y2="136.70" stroke="#9ca60c" stroke-width="1.6"/>
<text x="218.70" y="136.70" font-size="10" fill="#9ca60c" text-anchor="start" dominant-baseline="central" font-weight="normal">1.0</text>
<text x="308.00" y="118.00" font-size="12" fill="#111" text-anchor="middle" dominant-baseline="central" font-weight="normal">(d)</text>
<line x1="340.60" y1="201.50" x2="492.90" y2="201.50" stroke="#000" stroke-width="1.5"/>
<line x1="343.00" y1="201.50" x2="343.00" y2="208.10" stroke="#000" stroke-width="1.6"/>
<text x="343.00" y="215.80" font-size="8.5" fill="#111" text-anchor="middle" dominant-baseline="central" font-weight="normal">2/13</text>
<line x1="343.00" y1="135.00" x2="343.00" y2="200.70" stroke="#c8c8c8" stroke-width="0.6" stroke-dasharray="1,1"/>
<line x1="369.64" y1="201.50" x2="369.64" y2="208.10" stroke="#000" stroke-width="1.6"/>
<text x="369.64" y="215.80" font-size="8.5" fill="#111" text-anchor="middle" dominant-baseline="central" font-weight="normal">2/15</text>
<line x1="369.64" y1="135.00" x2="369.64" y2="200.70" stroke="#c8c8c8" stroke-width="0.6" stroke-dasharray="1,1"/>
<line x1="396.28" y1="201.50" x2="396.28" y2="208.10" stroke="#000" stroke-width="1.6"/>
<text x="396.28" y="215.80" font-size="8.5" fill="#111" text-anchor="middle" dominant-baseline="central" font-weight="normal">2/17</text>
<line x1="396.28" y1="135.00" x2="396.28" y2="200.70" stroke="#c8c8c8" stroke-width="0.6" stroke-dasharray="1,1"/>
<line x1="422.92" y1="201.50" x2="422.92" y2="208.10" stroke="#000" stroke-width="1.6"/>
<text x="422.92" y="215.80" font-size="8.5" fill="#111" text-anchor="middle" dominant-baseline="central" font-weight="normal">2/19</text>
<line x1="422.92" y1="135.00" x2="422.92" y2="200.70" stroke="#c8c8c8" stroke-width="0.6" stroke-dasharray="1,1"/>
<line x1="449.56" y1="201.50" x2="449.56" y2="208.10" stroke="#000" stroke-width="1.6"/>
<text x="449.56" y="215.80" font-size="8.5" fill="#111" text-anchor="middle" dominant-baseline="central" font-weight="normal">2/21</text>
<line x1="449.56" y1="135.00" x2="449.56" y2="200.70" stroke="#c8c8c8" stroke-width="0.6" stroke-dasharray="1,1"/>
<line x1="476.20" y1="201.50" x2="476.20" y2="208.10" stroke="#000" stroke-width="1.6"/>
<text x="476.20" y="215.80" font-size="8.5" fill="#111" text-anchor="middle" dominant-baseline="central" font-weight="normal">2/23</text>
<line x1="476.20" y1="135.00" x2="476.20" y2="200.70" stroke="#c8c8c8" stroke-width="0.6" stroke-dasharray="1,1"/>
<line x1="340.60" y1="135.00" x2="340.60" y2="201.50" stroke="#000" stroke-width="1.6"/>
<line x1="340.60" y1="199.10" x2="335.10" y2="199.10" stroke="#000" stroke-width="1.6"/>
<text x="332.10" y="199.10" font-size="10" fill="#222" text-anchor="end" dominant-baseline="central" font-weight="normal">0</text>
<line x1="340.60" y1="186.40" x2="335.10" y2="186.40" stroke="#000" stroke-width="1.6"/>
<text x="332.10" y="186.40" font-size="10" fill="#222" text-anchor="end" dominant-baseline="central" font-weight="normal">200</text>
<line x1="340.60" y1="173.70" x2="335.10" y2="173.70" stroke="#000" stroke-width="1.6"/>
<text x="332.10" y="173.70" font-size="10" fill="#222" text-anchor="end" dominant-baseline="central" font-weight="normal">400</text>
<line x1="340.60" y1="161.00" x2="335.10" y2="161.00" stroke="#000" stroke-width="1.6"/>
<text x="332.10" y="161.00" font-size="10" fill="#222" text-anchor="end" dominant-baseline="central" font-weight="normal">600</text>
<line x1="340.60" y1="148.30" x2="335.10" y2="148.30" stroke="#000" stroke-width="1.6"/>
<text x="332.10" y="148.30" font-size="10" fill="#222" text-anchor="end" dominant-baseline="central" font-weight="normal">800</text>
<line x1="340.60" y1="135.60" x2="335.10" y2="135.60" stroke="#000" stroke-width="1.6"/>
<text x="332.10" y="135.60" font-size="10" fill="#222" text-anchor="end" dominant-baseline="central" font-weight="normal">1000</text>
<line x1="492.90" y1="135.00" x2="492.90" y2="201.50" stroke="#9ca60c" stroke-width="1.6"/>
<line x1="492.90" y1="199.20" x2="498.40" y2="199.20" stroke="#9ca60c" stroke-width="1.6"/>
<text x="502.30" y="199.20" font-size="10" fill="#9ca60c" text-anchor="start" dominant-baseline="central" font-weight="normal">0</text>
<line x1="492.90" y1="186.70" x2="498.40" y2="186.70" stroke="#9ca60c" stroke-width="1.6"/>
<text x="502.30" y="186.70" font-size="10" fill="#9ca60c" text-anchor="start" dominant-baseline="central" font-weight="normal">100</text>
<line x1="492.90" y1="174.20" x2="498.40" y2="174.20" stroke="#9ca60c" stroke-width="1.6"/>
<text x="502.30" y="174.20" font-size="10" fill="#9ca60c" text-anchor="start" dominant-baseline="central" font-weight="normal">200</text>
<line x1="492.90" y1="161.70" x2="498.40" y2="161.70" stroke="#9ca60c" stroke-width="1.6"/>
<text x="502.30" y="161.70" font-size="10" fill="#9ca60c" text-anchor="start" dominant-baseline="central" font-weight="normal">300</text>
<line x1="492.90" y1="149.20" x2="498.40" y2="149.20" stroke="#9ca60c" stroke-width="1.6"/>
<text x="502.30" y="149.20" font-size="10" fill="#9ca60c" text-anchor="start" dominant-baseline="central" font-weight="normal">400</text>
<line x1="492.90" y1="136.70" x2="498.40" y2="136.70" stroke="#9ca60c" stroke-width="1.6"/>
<text x="502.30" y="136.70" font-size="10" fill="#9ca60c" text-anchor="start" dominant-baseline="central" font-weight="normal">500</text>
<text x="26.50" y="231.50" font-size="12" fill="#111" text-anchor="middle" dominant-baseline="central" font-weight="normal">(e)</text>
<line x1="48.60" y1="319.80" x2="208.20" y2="319.80" stroke="#000" stroke-width="1.5"/>
<line x1="51.90" y1="319.80" x2="51.90" y2="326.40" stroke="#000" stroke-width="1.6"/>
<text x="51.90" y="333.00" font-size="8.5" fill="#111" text-anchor="middle" dominant-baseline="central" font-weight="normal">2/13</text>
<line x1="51.90" y1="252.00" x2="51.90" y2="319.00" stroke="#c8c8c8" stroke-width="0.6" stroke-dasharray="1,1"/>
<line x1="79.84" y1="319.80" x2="79.84" y2="326.40" stroke="#000" stroke-width="1.6"/>
<text x="79.84" y="333.00" font-size="8.5" fill="#111" text-anchor="middle" dominant-baseline="central" font-weight="normal">2/15</text>
<line x1="79.84" y1="252.00" x2="79.84" y2="319.00" stroke="#c8c8c8" stroke-width="0.6" stroke-dasharray="1,1"/>
<line x1="107.78" y1="319.80" x2="107.78" y2="326.40" stroke="#000" stroke-width="1.6"/>
<text x="107.78" y="333.00" font-size="8.5" fill="#111" text-anchor="middle" dominant-baseline="central" font-weight="normal">2/17</text>
<line x1="107.78" y1="252.00" x2="107.78" y2="319.00" stroke="#c8c8c8" stroke-width="0.6" stroke-dasharray="1,1"/>
<line x1="135.72" y1="319.80" x2="135.72" y2="326.40" stroke="#000" stroke-width="1.6"/>
<text x="135.72" y="333.00" font-size="8.5" fill="#111" text-anchor="middle" dominant-baseline="central" font-weight="normal">2/19</text>
<line x1="135.72" y1="252.00" x2="135.72" y2="319.00" stroke="#c8c8c8" stroke-width="0.6" stroke-dasharray="1,1"/>
<line x1="163.66" y1="319.80" x2="163.66" y2="326.40" stroke="#000" stroke-width="1.6"/>
<text x="163.66" y="333.00" font-size="8.5" fill="#111" text-anchor="middle" dominant-baseline="central" font-weight="normal">2/21</text>
<line x1="163.66" y1="252.00" x2="163.66" y2="319.00" stroke="#c8c8c8" stroke-width="0.6" stroke-dasharray="1,1"/>
<line x1="191.60" y1="319.80" x2="191.60" y2="326.40" stroke="#000" stroke-width="1.6"/>
<text x="191.60" y="333.00" font-size="8.5" fill="#111" text-anchor="middle" dominant-baseline="central" font-weight="normal">2/23</text>
<line x1="191.60" y1="252.00" x2="191.60" y2="319.00" stroke="#c8c8c8" stroke-width="0.6" stroke-dasharray="1,1"/>
<line x1="48.60" y1="252.00" x2="48.60" y2="319.80" stroke="#000" stroke-width="1.6"/>
<line x1="48.60" y1="317.00" x2="43.10" y2="317.00" stroke="#000" stroke-width="1.6"/>
<text x="40.80" y="317.00" font-size="10" fill="#222" text-anchor="end" dominant-baseline="central" font-weight="normal">0.0</text>
<line x1="48.60" y1="295.40" x2="43.10" y2="295.40" stroke="#000" stroke-width="1.6"/>
<text x="40.80" y="295.40" font-size="10" fill="#222" text-anchor="end" dominant-baseline="central" font-weight="normal">1.0</text>
<line x1="48.60" y1="273.80" x2="43.10" y2="273.80" stroke="#000" stroke-width="1.6"/>
<text x="40.80" y="273.80" font-size="10" fill="#222" text-anchor="end" dominant-baseline="central" font-weight="normal">2.0</text>
<line x1="48.60" y1="252.20" x2="43.10" y2="252.20" stroke="#000" stroke-width="1.6"/>
<text x="40.80" y="252.20" font-size="10" fill="#222" text-anchor="end" dominant-baseline="central" font-weight="normal">3.0</text>
<line x1="208.20" y1="251.50" x2="208.20" y2="319.80" stroke="#9ca60c" stroke-width="1.6"/>
<line x1="208.20" y1="317.00" x2="213.70" y2="317.00" stroke="#9ca60c" stroke-width="1.6"/>
<text x="217.70" y="317.00" font-size="10" fill="#9ca60c" text-anchor="start" dominant-baseline="central" font-weight="normal">0.0</text>
<line x1="208.20" y1="295.20" x2="213.70" y2="295.20" stroke="#9ca60c" stroke-width="1.6"/>
<text x="217.70" y="295.20" font-size="10" fill="#9ca60c" text-anchor="start" dominant-baseline="central" font-weight="normal">1.0</text>
<line x1="208.20" y1="273.40" x2="213.70" y2="273.40" stroke="#9ca60c" stroke-width="1.6"/>
<text x="217.70" y="273.40" font-size="10" fill="#9ca60c" text-anchor="start" dominant-baseline="central" font-weight="normal">2.0</text>
<line x1="208.20" y1="251.60" x2="213.70" y2="251.60" stroke="#9ca60c" stroke-width="1.6"/>
<text x="217.70" y="251.60" font-size="10" fill="#9ca60c" text-anchor="start" dominant-baseline="central" font-weight="normal">3.0</text>
<line x1="208.20" y1="306.10" x2="211.20" y2="306.10" stroke="#9ca60c" stroke-width="1.6"/>
<line x1="208.20" y1="284.30" x2="211.20" y2="284.30" stroke="#9ca60c" stroke-width="1.6"/>
<line x1="208.20" y1="262.50" x2="211.20" y2="262.50" stroke="#9ca60c" stroke-width="1.6"/>
<text x="307.00" y="230.00" font-size="12" fill="#111" text-anchor="middle" dominant-baseline="central" font-weight="normal">(f)</text>
<line x1="336.50" y1="317.00" x2="494.20" y2="317.00" stroke="#000" stroke-width="1.5"/>
<line x1="339.30" y1="317.00" x2="339.30" y2="323.60" stroke="#000" stroke-width="1.6"/>
<text x="339.30" y="331.00" font-size="8.5" fill="#111" text-anchor="middle" dominant-baseline="central" font-weight="normal">2/13</text>
<line x1="339.30" y1="250.00" x2="339.30" y2="316.20" stroke="#c8c8c8" stroke-width="0.6" stroke-dasharray="1,1"/>
<line x1="366.68" y1="317.00" x2="366.68" y2="323.60" stroke="#000" stroke-width="1.6"/>
<text x="366.68" y="331.00" font-size="8.5" fill="#111" text-anchor="middle" dominant-baseline="central" font-weight="normal">2/15</text>
<line x1="366.68" y1="250.00" x2="366.68" y2="316.20" stroke="#c8c8c8" stroke-width="0.6" stroke-dasharray="1,1"/>
<line x1="394.06" y1="317.00" x2="394.06" y2="323.60" stroke="#000" stroke-width="1.6"/>
<text x="394.06" y="331.00" font-size="8.5" fill="#111" text-anchor="middle" dominant-baseline="central" font-weight="normal">2/17</text>
<line x1="394.06" y1="250.00" x2="394.06" y2="316.20" stroke="#c8c8c8" stroke-width="0.6" stroke-dasharray="1,1"/>
<line x1="421.44" y1="317.00" x2="421.44" y2="323.60" stroke="#000" stroke-width="1.6"/>
<text x="421.44" y="331.00" font-size="8.5" fill="#111" text-anchor="middle" dominant-baseline="central" font-weight="normal">2/19</text>
<line x1="421.44" y1="250.00" x2="421.44" y2="316.20" stroke="#c8c8c8" stroke-width="0.6" stroke-dasharray="1,1"/>
<line x1="448.82" y1="317.00" x2="448.82" y2="323.60" stroke="#000" stroke-width="1.6"/>
<text x="448.82" y="331.00" font-size="8.5" fill="#111" text-anchor="middle" dominant-baseline="central" font-weight="normal">2/21</text>
<line x1="448.82" y1="250.00" x2="448.82" y2="316.20" stroke="#c8c8c8" stroke-width="0.6" stroke-dasharray="1,1"/>
<line x1="476.20" y1="317.00" x2="476.20" y2="323.60" stroke="#000" stroke-width="1.6"/>
<text x="476.20" y="331.00" font-size="8.5" fill="#111" text-anchor="middle" dominant-baseline="central" font-weight="normal">2/23</text>
<line x1="476.20" y1="250.00" x2="476.20" y2="316.20" stroke="#c8c8c8" stroke-width="0.6" stroke-dasharray="1,1"/>
<line x1="336.50" y1="250.00" x2="336.50" y2="317.00" stroke="#000" stroke-width="1.6"/>
<line x1="336.50" y1="314.30" x2="331.00" y2="314.30" stroke="#000" stroke-width="1.6"/>
<text x="328.00" y="314.30" font-size="10" fill="#222" text-anchor="end" dominant-baseline="central" font-weight="normal">0</text>
<line x1="336.50" y1="293.10" x2="331.00" y2="293.10" stroke="#000" stroke-width="1.6"/>
<text x="328.00" y="293.10" font-size="10" fill="#222" text-anchor="end" dominant-baseline="central" font-weight="normal">20</text>
<line x1="336.50" y1="271.90" x2="331.00" y2="271.90" stroke="#000" stroke-width="1.6"/>
<text x="328.00" y="271.90" font-size="10" fill="#222" text-anchor="end" dominant-baseline="central" font-weight="normal">40</text>
<line x1="336.50" y1="250.70" x2="331.00" y2="250.70" stroke="#000" stroke-width="1.6"/>
<text x="328.00" y="250.70" font-size="10" fill="#222" text-anchor="end" dominant-baseline="central" font-weight="normal">60</text>
<line x1="336.50" y1="303.70" x2="333.50" y2="303.70" stroke="#000" stroke-width="1.6"/>
<line x1="336.50" y1="282.50" x2="333.50" y2="282.50" stroke="#000" stroke-width="1.6"/>
<line x1="336.50" y1="261.30" x2="333.50" y2="261.30" stroke="#000" stroke-width="1.6"/>
<line x1="494.20" y1="250.00" x2="494.20" y2="317.00" stroke="#9ca60c" stroke-width="1.6"/>
<line x1="494.20" y1="314.50" x2="499.70" y2="314.50" stroke="#9ca60c" stroke-width="1.6"/>
<text x="501.70" y="314.50" font-size="10" fill="#9ca60c" text-anchor="start" dominant-baseline="central" font-weight="normal">0</text>
<line x1="494.20" y1="293.20" x2="499.70" y2="293.20" stroke="#9ca60c" stroke-width="1.6"/>
<text x="501.70" y="293.20" font-size="10" fill="#9ca60c" text-anchor="start" dominant-baseline="central" font-weight="normal">20</text>
<line x1="494.20" y1="271.90" x2="499.70" y2="271.90" stroke="#9ca60c" stroke-width="1.6"/>
<text x="501.70" y="271.90" font-size="10" fill="#9ca60c" text-anchor="start" dominant-baseline="central" font-weight="normal">40</text>
<line x1="494.20" y1="250.60" x2="499.70" y2="250.60" stroke="#9ca60c" stroke-width="1.6"/>
<text x="501.70" y="250.60" font-size="10" fill="#9ca60c" text-anchor="start" dominant-baseline="central" font-weight="normal">60</text>
<line x1="494.20" y1="303.85" x2="497.20" y2="303.85" stroke="#9ca60c" stroke-width="1.6"/>
<line x1="494.20" y1="282.55" x2="497.20" y2="282.55" stroke="#9ca60c" stroke-width="1.6"/>
<line x1="494.20" y1="261.25" x2="497.20" y2="261.25" stroke="#9ca60c" stroke-width="1.6"/>
<path d="M61.80,173.80 H63.70 V169.00 H65.60 V161.20 H67.50 V165.10 H69.50 V170.90 H71.40 V179.60 H74.30 V183.40 H78.20 V185.40 H81.10 V181.50 H84.00 V174.70 H86.90 V169.00 H88.80 V169.90 H90.70 V174.70 H92.60 V180.50 H96.50 V186.30 H100.40 V187.30 H101.90 V191.20 H105.80 V189.20 H108.70 V187.30 H111.60 V186.30 H114.50 V183.40 H118.30 V181.50 H121.20 V185.40 H124.10 V186.30 H127.00 V182.50 H129.90 V179.60 H132.80 V174.70 H135.70 V170.90 H137.60 V177.60 H139.60 V186.30 H142.50 V187.30 H144.40 V170.90 H146.30 V191.20 H150.00 V192.10 H152.70 V191.20 H156.60 V188.30 H159.50 V187.30 H162.40 V196.00 H165.30 V191.20 H168.20 V186.30 H170.10 V181.50 H173.00 V186.30 H175.90 V188.30 H179.70 V186.30 H183.60 V168.00 H185.50 V169.00 H186.50 V189.20 H189.40 V184.40 H193.30 V191.20 H196.20 V192.10 H198.10 V189.20" fill="none" stroke="#9ca60c" stroke-width="2.1" stroke-linejoin="miter" stroke-miterlimit="2"/>
<path d="M61.80,169.00 H63.70 V163.20 H64.70 V156.40 H66.60 V156.40 H67.50 V159.30 H68.50 V167.00 H70.40 V169.90 H73.30 V173.80 H76.20 V176.70 H78.20 V181.50 H80.10 V176.70 H82.00 V169.00 H85.90 V169.00 H86.90 V161.20 H88.80 V161.20 H89.70 V165.10 H91.70 V173.80 H93.60 V174.70 H94.60 V181.50 H96.50 V180.50 H98.40 V183.40 H100.40 V182.50 H101.90 V182.50 H102.90 V191.20 H105.80 V192.10 H106.80 V185.40 H109.70 V185.40 H111.60 V181.50 H113.50 V177.60 H117.40 V176.70 H119.30 V178.60 H120.30 V164.10 H121.20 V164.10 H122.20 V178.60 H124.10 V181.50 H126.10 V178.60 H127.00 V172.80 H129.90 V170.90 H130.90 V165.10 H132.80 V165.10 H133.80 V161.20 H135.70 V161.20 H136.70 V170.90 H138.60 V173.80 H140.50 V186.30 H142.00 V186.30 H142.40 V150.00 H145.00 V150.00 H145.50 V169.00 H146.50 V186.30 H149.80 V187.30 H152.70 V192.10 H155.60 V190.20 H157.50 V187.30 H158.50 V180.50 H160.40 V181.50 H162.40 V193.10 H164.30 V186.30 H166.20 V181.50 H169.10 V177.60 H170.10 V172.80 H172.00 V173.80 H173.00 V181.50 H174.90 V185.40 H177.80 V181.50 H180.70 V179.60 H182.60 V154.50 H184.60 V154.50 H185.50 V166.10 H186.50 V181.50 H189.40 V180.50 H191.30 V184.40 H194.20 V190.20 H196.20 V187.30 H198.10 V183.40" fill="none" stroke="#363636" stroke-width="2.1" stroke-linejoin="miter" stroke-miterlimit="2"/>
<rect x="142.60" y="150.00" width="2.00" height="18.00" fill="#363636"/>
<rect x="182.00" y="155.00" width="2.60" height="11.00" fill="#363636"/>
<rect x="119.20" y="163.10" width="3.30" height="14.50" fill="#363636"/>
<rect x="130.20" y="160.20" width="5.80" height="10.60" fill="#363636"/>
<rect x="168.80" y="172.80" width="3.20" height="8.60" fill="#363636"/>
<line x1="98.00" y1="139.50" x2="113.30" y2="139.50" stroke="#9ca60c" stroke-width="1.8"/>
<text x="116.50" y="139.80" font-size="7.5" fill="#666" text-anchor="start" dominant-baseline="central" font-weight="normal">K</text>
<line x1="128.10" y1="139.50" x2="143.80" y2="139.50" stroke="#363636" stroke-width="1.8"/>
<text x="147.30" y="139.80" font-size="7.5" fill="#666" text-anchor="start" dominant-baseline="central" font-weight="normal">K<tspan dy="-2.5" font-size="5">*</tspan></text>
<text x="17.00" y="169.00" font-size="11.5" fill="#555" text-anchor="middle" dominant-baseline="central" font-weight="normal" transform="rotate(-90 17 169)">K<tspan dy="-3.5" font-size="7">+</tspan><tspan dy="3.5"> </tspan>(μg m<tspan dy="-4.5" font-size="7.5">-3</tspan><tspan dy="4.5">)</tspan></text>
<text x="245.00" y="165.00" font-size="11.6" fill="#a8a840" text-anchor="middle" dominant-baseline="central" font-weight="normal" transform="rotate(90 245 165)">K (μg m<tspan dy="-4.5" font-size="7.5">-3</tspan><tspan dy="4.5">)</tspan></text>
<path d="M350.00,194.60 H353.40 V195.70 H357.80 V194.60 H362.30 V196.80 H366.70 V196.40 H370.10 V191.20 H373.40 V192.40 H376.70 V194.60 H380.10 V190.10 H383.40 V185.70 H385.70 V176.80 H387.90 V177.90 H390.10 V195.70 H393.50 V194.60 H395.70 V181.20 H398.40 V189.00 H401.70 V194.60 H406.10 V191.20 H409.50 V195.70 H413.90 V185.70 H416.20 V179.00 H418.40 V182.30 H420.60 V173.40 H422.80 V180.10 H424.60 V195.70 H428.40 V191.20 H430.60 V194.60 H435.10 V196.80 H440.70 V195.70 H446.70 V197.90 H451.10 V196.80 H457.80 V197.50 H461.20 V194.60 H464.50 V192.40 H467.80 V193.50 H470.10 V196.80 H482.30 V196.80" fill="none" stroke="#9ca60c" stroke-width="2.1" stroke-linejoin="miter" stroke-miterlimit="2"/>
<path d="M350.00,190.10 H352.20 V189.70 H354.50 V191.20 H356.70 V192.40 H358.90 V191.90 H361.20 V194.60 H363.40 V195.70 H365.60 V194.60 H367.80 V195.70 H369.00 V186.80 H372.30 V187.50 H374.50 V190.10 H376.70 V189.00 H377.90 V192.40 H380.10 V192.40 H381.20 V189.00 H383.40 V183.50 H385.70 V172.30 H387.90 V171.20 H389.00 V183.50 H391.20 V196.80 H393.50 V196.80 H394.60 V189.00 H395.70 V154.50 H396.80 V155.60 H397.70 V186.80 H400.60 V189.00 H402.80 V190.10 H405.00 V187.90 H406.10 V179.00 H408.40 V179.00 H409.50 V193.50 H411.70 V191.20 H413.90 V177.90 H416.20 V174.50 H417.30 V163.40 H419.10 V163.40 H419.50 V150.00 H421.70 V150.00 H422.40 V171.20 H424.00 V174.50 H425.10 V196.80 H427.30 V196.80 H428.00 V169.00 H430.20 V169.00 H430.60 V190.10 H432.90 V192.40 H434.00 V196.80 H438.40 V195.70 H439.50 V182.30 H441.80 V182.30 H442.20 V196.80 H446.70 V196.80 H448.90 V197.90 H451.10 V195.70 H454.50 V195.30 H457.80 V196.80 H460.00 V193.50 H462.30 V190.10 H463.40 V175.70 H465.60 V175.70 H466.30 V183.50 H468.50 V183.50 H469.00 V192.40 H471.20 V195.70 H472.30 V194.60 H474.50 V195.70 H476.70 V195.70 H478.90 V196.80 H481.20 V195.70 H482.30 V195.70" fill="none" stroke="#363636" stroke-width="2.1" stroke-linejoin="miter" stroke-miterlimit="2"/>
<rect x="415.50" y="179.00" width="7.00" height="10.00" fill="#9ca60c"/>
<rect x="397.00" y="186.30" width="4.20" height="6.70" fill="#9ca60c"/>
<rect x="395.40" y="155.00" width="3.30" height="30.00" fill="#363636"/>
<rect x="406.10" y="178.60" width="2.90" height="12.40" fill="#363636"/>
<rect x="415.70" y="163.20" width="5.20" height="15.40" fill="#363636"/>
<rect x="419.20" y="149.70" width="3.30" height="27.90" fill="#363636"/>
<rect x="427.30" y="169.00" width="3.30" height="27.00" fill="#363636"/>
<rect x="438.90" y="181.50" width="3.30" height="15.50" fill="#363636"/>
<rect x="462.60" y="175.30" width="3.30" height="16.80" fill="#363636"/>
<rect x="465.90" y="183.40" width="3.30" height="9.60" fill="#363636"/>
<line x1="356.70" y1="136.20" x2="371.20" y2="136.20" stroke="#9ca60c" stroke-width="1.8"/>
<text x="374.50" y="136.50" font-size="7.8" fill="#666" text-anchor="start" dominant-baseline="central" font-weight="normal">Levoglucosan</text>
<line x1="428.40" y1="136.20" x2="442.90" y2="136.20" stroke="#363636" stroke-width="1.8"/>
<text x="446.70" y="136.50" font-size="7.8" fill="#666" text-anchor="start" dominant-baseline="central" font-weight="normal">Mannosan</text>
<text x="290.00" y="168.30" font-size="10.5" fill="#555" text-anchor="middle" dominant-baseline="central" font-weight="normal" transform="rotate(-90 290 168.3)">Levoglucosan</text>
<text x="302.50" y="162.50" font-size="10.5" fill="#555" text-anchor="middle" dominant-baseline="central" font-weight="normal" transform="rotate(-90 302.5 162.5)">(ng m<tspan dy="-4.5" font-size="7.5">-3</tspan><tspan dy="4.5">)</tspan></text>
<text x="541.80" y="164.20" font-size="10.6" fill="#a8a840" text-anchor="middle" dominant-baseline="central" font-weight="normal" transform="rotate(90 541.8 164.2)">Mannosan</text>
<text x="528.50" y="163.60" font-size="11.2" fill="#a8a840" text-anchor="middle" dominant-baseline="central" font-weight="normal" transform="rotate(90 528.5 163.6)">(ng m<tspan dy="-4.5" font-size="7.5">-3</tspan><tspan dy="4.5">)</tspan></text>
<path d="M59.50,305.10 L62.80,304.70 L66.10,307.40 L68.40,306.20 L71.70,308.50 L75.00,309.60 L78.40,307.40 L81.70,305.10 H84.00 V299.60 H86.20 V290.70 H88.40 V299.60 H90.60 V305.10 H94.00 V306.20 H97.30 V301.80 H100.00 V306.60 H102.70 V307.50 H104.40 V303.00 H108.00 V305.70 H109.80 V306.60 H111.60 V304.80 H112.50 V298.60 H115.10 V297.70 H116.90 V300.40 H118.70 V292.40 H119.90 V298.60 H123.10 V301.30 H126.70 V295.90 H128.50 V293.30 H131.10 V291.50 H132.90 V295.00 H134.70 V293.30 H135.60 V298.60 H137.70 V297.70 H138.30 V308.40 H139.80 V301.30 H141.60 V302.20 H142.40 V305.70 H145.10 V311.90 H148.70 V311.90 H151.30 V310.20 H154.90 V308.40 H157.60 V311.00 H161.10 V313.70 H163.80 V309.30 H167.40 V303.00 H170.00 V298.60 H171.80 V302.20 H172.70 V308.40 H175.30 V307.50 H178.00 V306.60 H180.70 V304.80 H182.10 V291.50 H183.90 V293.30 H185.10 V303.00 H186.90 V303.00 H187.80 V297.70 H189.20 V299.50 H190.50 V308.40 H192.20 V311.90 H194.90 V306.60 H196.70 V303.00" fill="none" stroke="#9ca60c" stroke-width="2.1" stroke-linejoin="miter" stroke-miterlimit="2"/>
<path d="M59.50,286.20 L61.70,289.50 L65.00,292.90 L68.40,295.10 L70.60,298.50 L72.80,301.80 L75.00,304.00 L77.30,302.90 L79.50,300.70 L81.70,297.30 H83.50 V286.20 H85.70 V276.20 H88.00 V281.70 H90.20 V285.10 H92.40 V289.50 H94.60 V292.90 H96.20 V292.90 H97.30 V285.10 H99.10 V285.10 H100.00 V299.50 H101.40 V299.50 H101.80 V303.00 H103.20 V303.00 H103.60 V296.80 H106.20 V296.80 H106.80 V303.00 H108.00 V303.00 H108.50 V299.50 H110.30 V297.70 H111.60 V290.60 H112.50 V280.80 H115.10 V280.80 H115.10 V295.90 H116.90 V295.90 H116.90 V288.80 H117.80 V276.40 H119.90 V276.40 H119.90 V290.60 H122.20 V289.70 H123.10 V284.40 H126.70 V283.50 H127.60 V268.30 H128.50 V260.30 H130.60 V260.30 H131.10 V267.50 H132.90 V268.30 H133.80 V274.60 H134.70 V274.60 H135.20 V288.80 H135.60 V274.60 H137.70 V274.60 H137.70 V295.90 H140.70 V296.80 H140.70 V275.50 H143.00 V275.50 H143.30 V297.70 H145.10 V298.60 H145.50 V311.90 H148.70 V310.20 H151.30 V311.90 H153.10 V299.50 H154.90 V300.40 H155.80 V306.60 H158.50 V308.40 H160.20 V310.20 H162.90 V307.50 H165.60 V303.00 H168.20 V300.40 H170.90 V300.40 H171.80 V301.30 H173.60 V298.60 H176.20 V298.60 H178.00 V297.70 H179.80 V296.80 H181.00 V261.20 H183.30 V261.20 H183.30 V285.20 H184.60 V286.10 H185.10 V299.50 H186.90 V300.40 H187.80 V287.00 H189.20 V287.00 H189.60 V291.50 H191.00 V291.50 H191.40 V308.40 H193.10 V308.40 H194.00 V301.30 H196.70 V300.40" fill="none" stroke="#363636" stroke-width="2.1" stroke-linejoin="miter" stroke-miterlimit="2"/>
<rect x="128.20" y="260.20" width="2.90" height="8.20" fill="#363636"/>
<rect x="131.10" y="263.90" width="3.70" height="10.40" fill="#363636"/>
<rect x="134.10" y="273.50" width="3.00" height="15.60" fill="#363636"/>
<rect x="140.80" y="275.80" width="2.60" height="21.20" fill="#363636"/>
<rect x="112.50" y="280.80" width="2.60" height="7.20" fill="#363636"/>
<rect x="117.80" y="276.40" width="2.10" height="14.20" fill="#363636"/>
<rect x="181.00" y="261.20" width="2.30" height="23.80" fill="#363636"/>
<rect x="185.50" y="287.00" width="5.00" height="12.00" fill="#363636"/>
<rect x="128.20" y="291.40" width="5.90" height="8.10" fill="#9ca60c"/>
<line x1="86.20" y1="253.50" x2="101.80" y2="253.50" stroke="#9ca60c" stroke-width="1.8"/>
<text x="105.50" y="253.80" font-size="7.8" fill="#666" text-anchor="start" dominant-baseline="central" font-weight="normal">BC<tspan dy="2" font-size="5.5">880</tspan></text>
<line x1="129.50" y1="253.50" x2="144.00" y2="253.50" stroke="#363636" stroke-width="1.8"/>
<text x="147.30" y="253.80" font-size="7.8" fill="#666" text-anchor="start" dominant-baseline="central" font-weight="normal">EC</text>
<text x="13.20" y="288.50" font-size="11" fill="#555" text-anchor="middle" dominant-baseline="central" font-weight="normal" transform="rotate(-90 13.2 288.5)">BC<tspan dy="2.5" font-size="7.5">880</tspan><tspan dy="-2.5"> </tspan>(μg m<tspan dy="-4.5" font-size="7.5">-3</tspan><tspan dy="4.5">)</tspan></text>
<text x="241.00" y="281.60" font-size="11.5" fill="#a8a840" text-anchor="middle" dominant-baseline="central" font-weight="normal" transform="rotate(90 241 281.6)">EC (μg m<tspan dy="-4.5" font-size="7.5">-3</tspan><tspan dy="4.5">)</tspan></text>
<path d="M346.70,305.40 L348.00,306.10 L350.00,305.40 L352.00,306.80 L354.00,307.40 L356.00,306.80 L358.00,308.10 L360.00,308.80 L362.00,308.10 L365.00,308.80 L365.70,308.40 H368.30 V303.90 H371.00 V300.40 H372.80 V297.70 H374.60 V303.00 H376.40 V306.60 H379.00 V304.80 H381.30 V302.20 H382.60 V287.90 H383.50 V293.30 H385.20 V300.40 H387.00 V308.40 H388.00 V311.90 H389.40 V312.80 H390.70 V303.00 H393.30 V302.20 H395.10 V303.90 H397.80 V304.80 H400.50 V303.90 H402.20 V302.20 H404.00 V296.80 H405.80 V292.40 H408.50 V291.50 H411.10 V287.90 H413.80 V286.10 H415.60 V281.70 H417.40 V271.00 H418.20 V262.10 H420.00 V260.30 H421.80 V290.60 H422.70 V289.70 H424.40 V297.70 H425.00 V308.40 H428.00 V309.30 H428.90 V297.70 H429.80 V311.90 H433.30 V311.90 H437.80 V311.00 H440.50 V309.30 H442.20 V312.80 H446.70 V311.90 H451.10 V310.20 H455.60 V311.00 H459.10 V310.20 H460.00 V305.70 H461.80 V303.00 H462.70 V297.70 H464.50 V295.00 H465.90 V297.70 H468.00 V287.00 H469.40 V287.00 H469.80 V306.60 H473.40 V308.40 H476.00 V308.40 H476.90 V311.00 H480.50 V311.90 H481.90 V308.40 H482.60 V311.90" fill="none" stroke="#9ca60c" stroke-width="2.1" stroke-linejoin="miter" stroke-miterlimit="2"/>
<path d="M346.40,286.70 L348.70,289.40 L350.70,292.10 L352.70,294.10 L354.70,295.40 L356.70,297.40 L357.40,300.10 L359.40,301.40 L361.40,302.10 L363.40,300.70 L365.00,300.10 L367.50,297.70 L369.20,292.40 L371.00,286.10 H371.90 V277.20 H373.70 V277.20 H374.20 V281.70 H376.40 V284.40 H378.10 V287.00 H379.90 V289.70 H381.70 V294.10 H383.10 V286.10 H384.90 V286.10 H385.60 V292.40 H386.10 V297.70 H387.90 V304.80 H388.00 V303.00 H389.80 V304.80 H390.70 V296.80 H391.90 V295.90 H392.40 V298.60 H394.20 V297.70 H394.80 V303.00 H396.90 V303.00 H397.80 V295.00 H398.70 V281.70 H400.80 V281.70 H401.30 V289.70 H403.10 V289.70 H404.00 V277.20 H406.10 V277.20 H406.70 V295.90 H407.60 V289.70 H409.40 V284.40 H412.00 V283.50 H412.90 V275.50 H413.80 V269.20 H414.70 V263.00 H416.50 V261.20 H417.40 V266.60 H419.10 V269.20 H420.00 V274.60 H422.70 V275.50 H423.20 V296.80 H426.20 V296.80 H426.80 V277.20 H428.90 V277.20 H429.30 V297.70 H430.30 V308.40 H433.30 V308.40 H435.10 V307.50 H437.80 V308.40 H438.70 V299.50 H441.40 V299.50 H442.20 V306.70 H444.00 V307.50 H446.70 V310.20 H449.40 V308.40 H452.00 V303.00 H453.80 V299.50 H455.60 V298.60 H457.30 V301.30 H458.20 V303.90 H459.50 V300.40 H460.90 V299.50 H461.80 V296.80 H463.60 V295.90 H464.50 V298.60 H466.20 V289.70 H466.80 V263.90 H468.90 V263.90 H468.90 V286.10 H469.80 V300.40 H471.60 V299.50 H472.50 V287.00 H474.20 V287.00 H474.80 V293.30 H476.00 V293.30 H476.60 V306.60 H478.70 V308.40 H479.60 V306.60 H480.10 V297.70 H481.90 V297.70 H482.20 V304.80" fill="none" stroke="#363636" stroke-width="2.1" stroke-linejoin="miter" stroke-miterlimit="2"/>
<rect x="398.70" y="281.70" width="2.40" height="8.00" fill="#363636"/>
<rect x="404.00" y="277.20" width="2.10" height="17.80" fill="#363636"/>
<rect x="413.80" y="261.20" width="3.20" height="13.80" fill="#363636"/>
<rect x="416.50" y="266.60" width="4.00" height="13.40" fill="#363636"/>
<rect x="420.00" y="274.60" width="3.00" height="21.40" fill="#363636"/>
<rect x="426.80" y="277.20" width="2.20" height="19.80" fill="#363636"/>
<rect x="466.20" y="263.90" width="2.70" height="26.10" fill="#363636"/>
<rect x="471.60" y="287.00" width="2.60" height="12.00" fill="#363636"/>
<rect x="418.00" y="261.00" width="2.80" height="11.00" fill="#9ca60c"/>
<rect x="461.80" y="295.00" width="4.20" height="8.00" fill="#9ca60c"/>
<line x1="372.00" y1="253.50" x2="387.00" y2="253.50" stroke="#9ca60c" stroke-width="1.8"/>
<text x="390.40" y="253.80" font-size="7.8" fill="#666" text-anchor="start" dominant-baseline="central" font-weight="normal">BC<tspan dy="2" font-size="5.5">370</tspan></text>
<line x1="415.00" y1="253.50" x2="429.20" y2="253.50" stroke="#363636" stroke-width="1.8"/>
<text x="432.80" y="253.80" font-size="7.8" fill="#666" text-anchor="start" dominant-baseline="central" font-weight="normal">BrC<tspan dy="2" font-size="5.5">370</tspan></text>
<text x="292.50" y="286.50" font-size="11.2" fill="#555" text-anchor="middle" dominant-baseline="central" font-weight="normal" transform="rotate(-90 292.5 286.5)">BC<tspan dy="2.5" font-size="7.5">370</tspan><tspan dy="-2.5"> </tspan>(Mm<tspan dy="-4.5" font-size="7.5">-1</tspan><tspan dy="4.5">)</tspan></text>
<text x="528.50" y="280.30" font-size="11" fill="#a8a840" text-anchor="middle" dominant-baseline="central" font-weight="normal" transform="rotate(90 528.5 280.3)">BrC<tspan dy="2.5" font-size="7.5">370</tspan><tspan dy="-2.5"> </tspan>(Mm<tspan dy="-4.5" font-size="7.5">-1</tspan><tspan dy="4.5">)</tspan></text>
</svg></body></html>
